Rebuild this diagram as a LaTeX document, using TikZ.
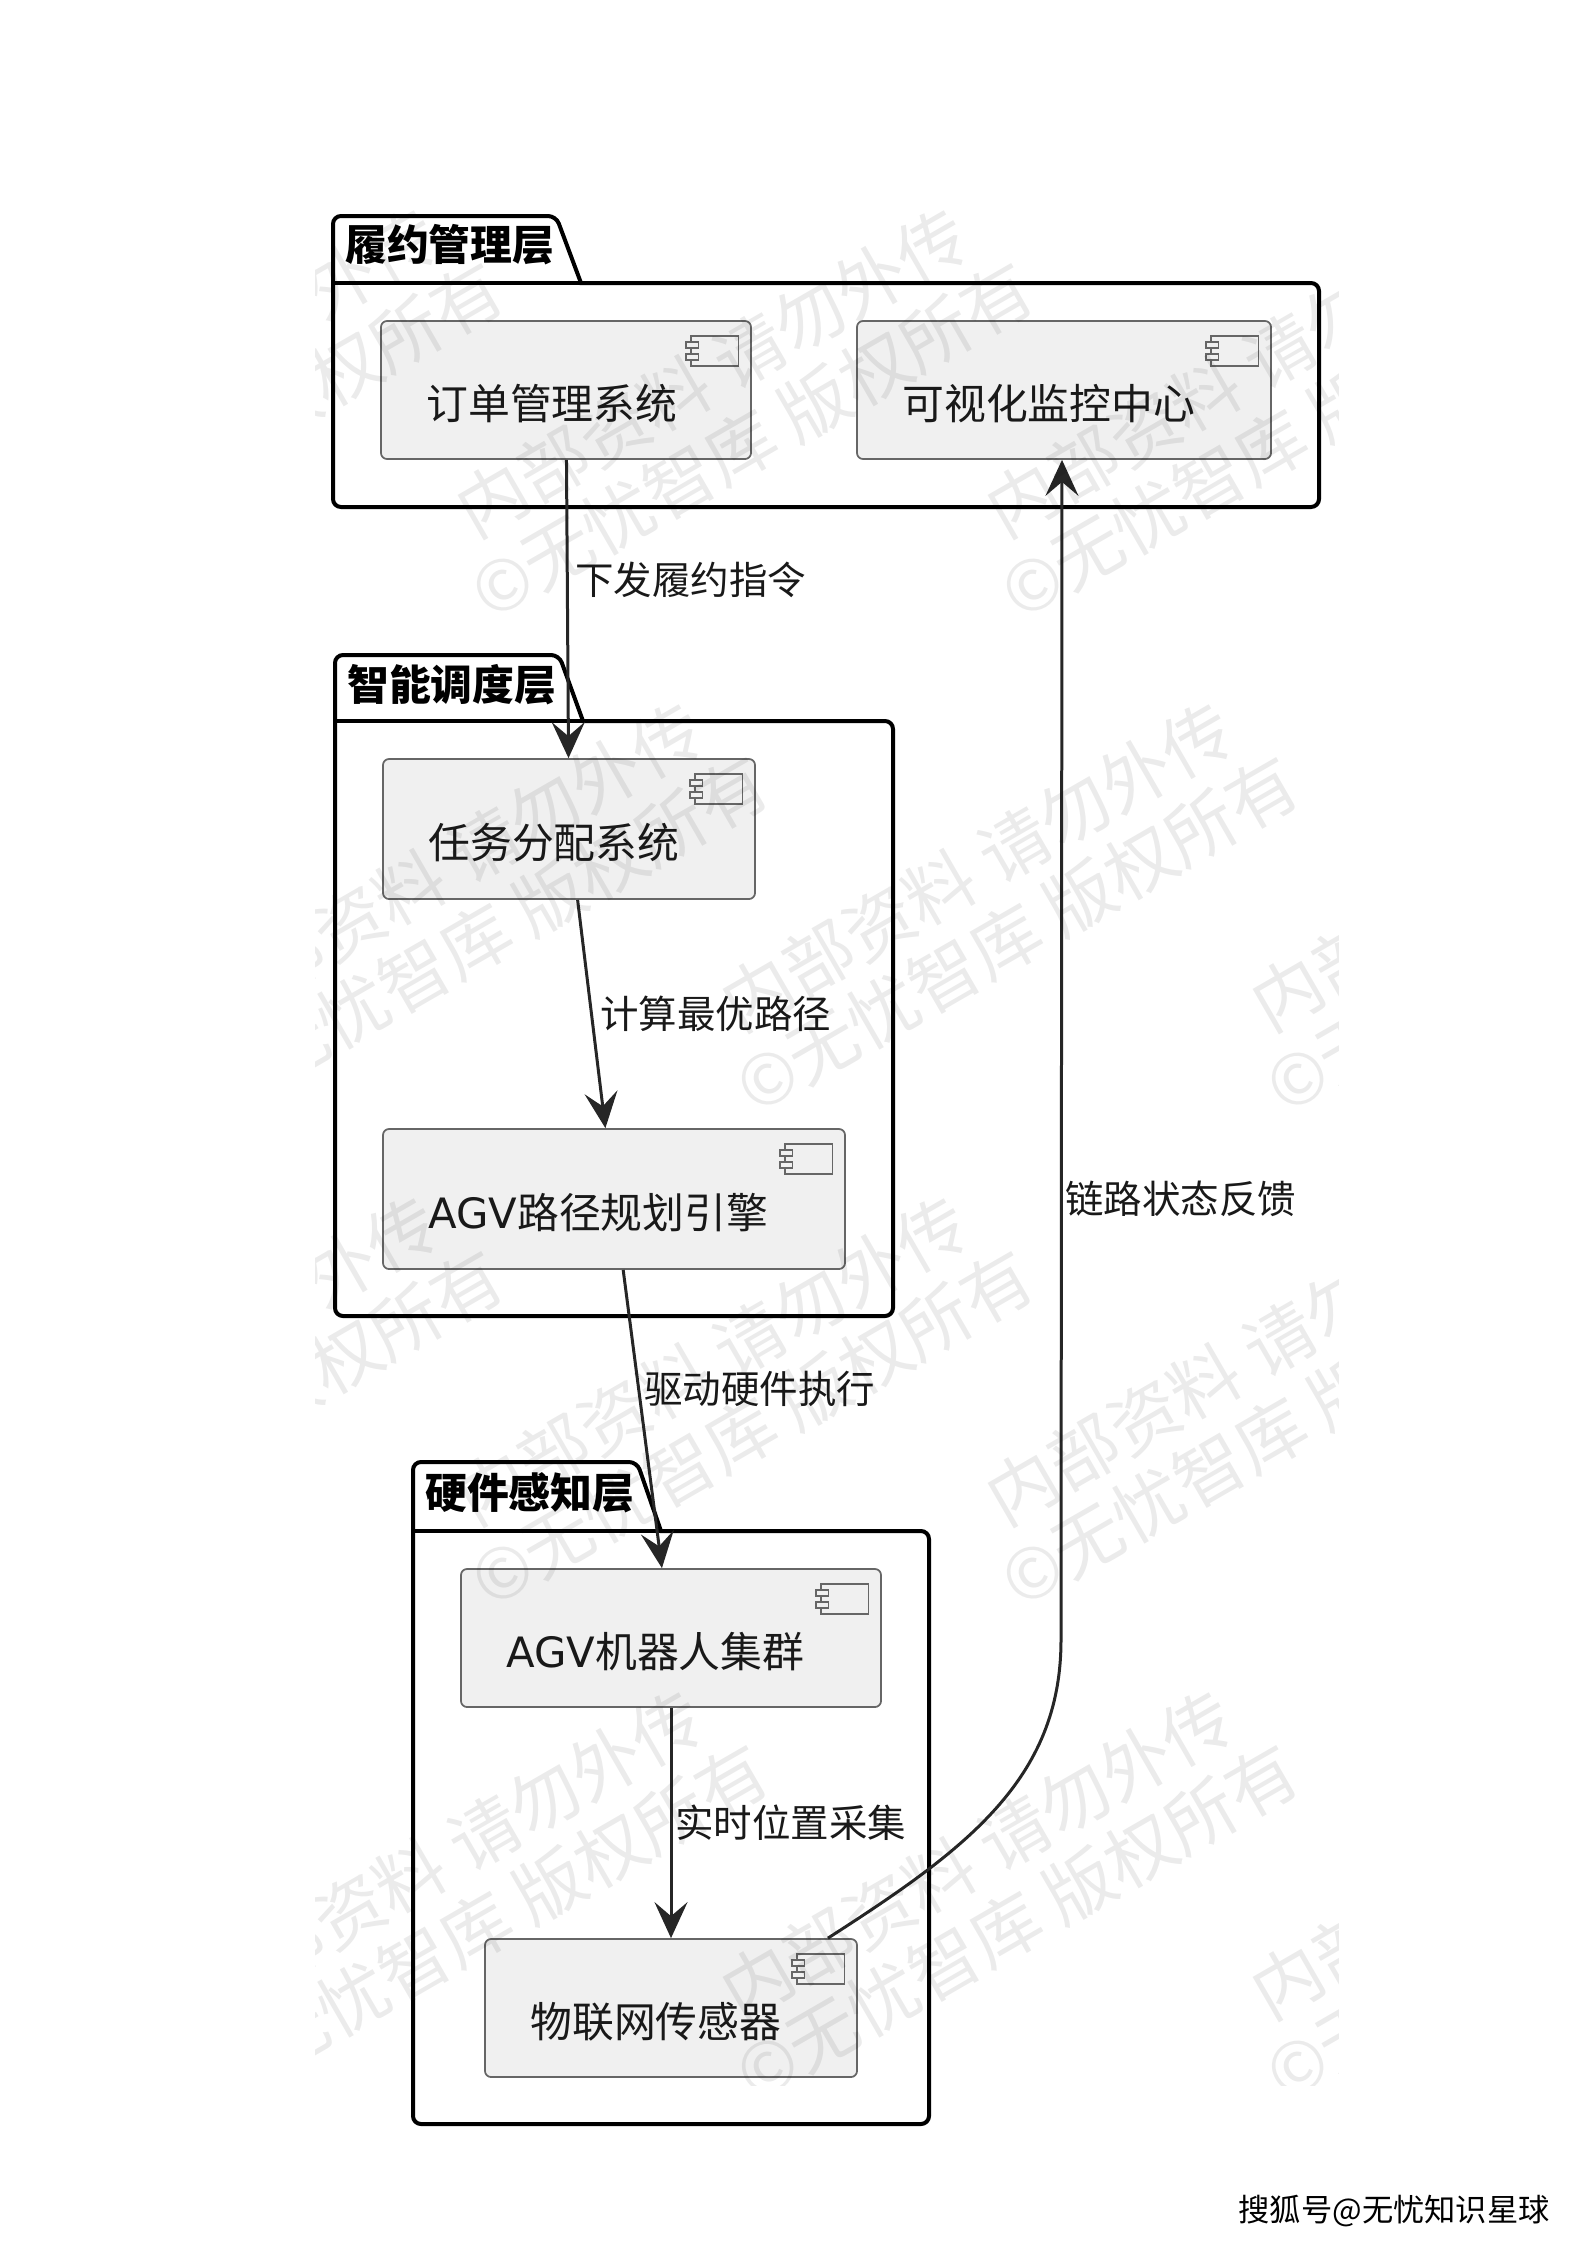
\documentclass[tikz,border=0pt]{standalone}
\usepackage{fontspec}
\setmainfont{Noto Sans CJK SC}
\newfontfamily\latinfont{DejaVu Sans}
\usepackage{tikz}
\usetikzlibrary{positioning, arrows.meta}

\tikzset{
    pkgframe/.style={line width=0.08cm, black},
    pkgtitle/.style={anchor=west, inner sep=0pt, font=\fontsize{23.8}{26}\selectfont\bfseries},
    compbox/.style={draw=black!60, fill=black!6, line width=0.035cm, rounded corners=0.12cm, inner sep=0pt},
    comptext/.style={anchor=west, inner sep=0pt, text=black!90, font=\fontsize{23.8}{26}\selectfont},
    compicon/.style={draw=black!60, line width=0.03cm},
    flow/.style={line width=0.06cm, black!85, -{Stealth[length=0.72cm, width=0.66cm, inset=0.28cm]}},
    flowlabel/.style={anchor=west, inner sep=0pt, text=black!90, font=\fontsize{21.9}{24}\selectfont},
    wmark/.style={inner sep=0pt, rotate=30, opacity=0.08, font=\fontsize{39.9}{42}\selectfont},
}

\begin{document}
\begin{tikzpicture}[x=0.02cm, y=-0.02cm]
    \useasboundingbox (0,0) rectangle (1587,2245);

    % Package frames
    \foreach \name/\lx/\rx/\ptop/\pbody/\pbot/\tabr/\tabs/\ttl/\ttly in {
        layerFulfil/333/1319/216/283/507/556/581/履约管理层/245,
        layerSched/335/893/655/721/1316/559/583/智能调度层/685,
        layerHw/413/929/1462/1531/2124/637/661/硬件感知层/1493} {
        \draw[pkgframe] (\lx,\pbody) [rounded corners=0.16cm] -- (\lx,\ptop) -- (\tabr,\ptop) [sharp corners] -- (\tabs,\pbody) [rounded corners=0.16cm] -- (\rx,\pbody) -- (\rx,\pbot) -- (\lx,\pbot) [sharp corners] -- cycle;
        \draw[pkgframe] (\lx,\pbody) -- (\tabs,\pbody);
        \node[pkgtitle] (\name) at (\lx+12,\ttly) {\ttl};
    }

    % Component boxes + icon
    \foreach \name/\cx/\cy/\bw/\bh/\txt in {
        order/566/390/370/138/订单管理系统,
        monitor/1064/390/414/138/可视化监控中心,
        task/569/829/372/140/任务分配系统,
        route/614/1199/462/140/{{\latinfont AGV}路径规划引擎},
        robots/671/1638/420/138/{{\latinfont AGV}机器人集群},
        sensor/671/2008/372/138/物联网传感器} {
        \node[compbox, minimum width=\bw*0.02cm, minimum height=\bh*0.02cm] (\name) at (\cx,\cy) {};
        \node[comptext] (\name text) at ([shift={(46,14)}]\name.west) {\txt};
        % Icon drawing
        \draw[compicon] ([shift={(-61,16)}]\name.north east) rectangle +(47.5,30);
        \draw[compicon, fill=black!6] ([shift={(-66,22)}]\name.north east) rectangle +(12.5,6);
        \draw[compicon, fill=black!6] ([shift={(-66,34)}]\name.north east) rectangle +(12.5,6);
    }

    % Connectors
    \coordinate (bend) at (1061,1640);
    \draw[flow] (order) -- (task);
    \draw[flow] (task) -- (route);
    \draw[flow] (route) -- (robots);
    \draw[flow] (robots) -- (sensor);
    \draw[flow] (sensor.24.6) .. controls (965,1850) and (1061,1780) .. (bend) -- ([xshift=-0.04cm]monitor.south);

    % Connector labels
    \node[flowlabel] (lblOrder) at (575,580) {下发履约指令};
    \node[flowlabel] (lblTask) at (600,1014) {计算最优路径};
    \node[flowlabel] (lblRoute) at (644,1389) {驱动硬件执行};
    \node[flowlabel] (lblRobots) at (675,1823) {实时位置采集};
    \node[flowlabel] (lblSensor) at (1065,1199) {链路状态反馈};

    % Corner mark
    \node[anchor=east, inner sep=0pt, font=\fontsize{17.8}{20}\selectfont] (source) at (1550,2211) {搜狐号@无忧知识星球};

    % Watermark tiles
    \begin{scope}
        \clip (315,195) rectangle (1338,2085);
        \foreach \row in {0,...,3} {
            \foreach \col in {-1,...,2} {
                \pgfmathsetmacro{\wx}{712+530*\col+265*mod(\row,2)}
                \pgfmathsetmacro{\wy}{372+494*\row}
                \node[wmark] (wmA\row\col) at (\wx,\wy) {内部资料 请勿外传};
                \node[wmark] (wmB\row\col) at (\wx+40,\wy+68) {©无忧智库 版权所有};
            }
        }
    \end{scope}
\end{tikzpicture}
\end{document}
